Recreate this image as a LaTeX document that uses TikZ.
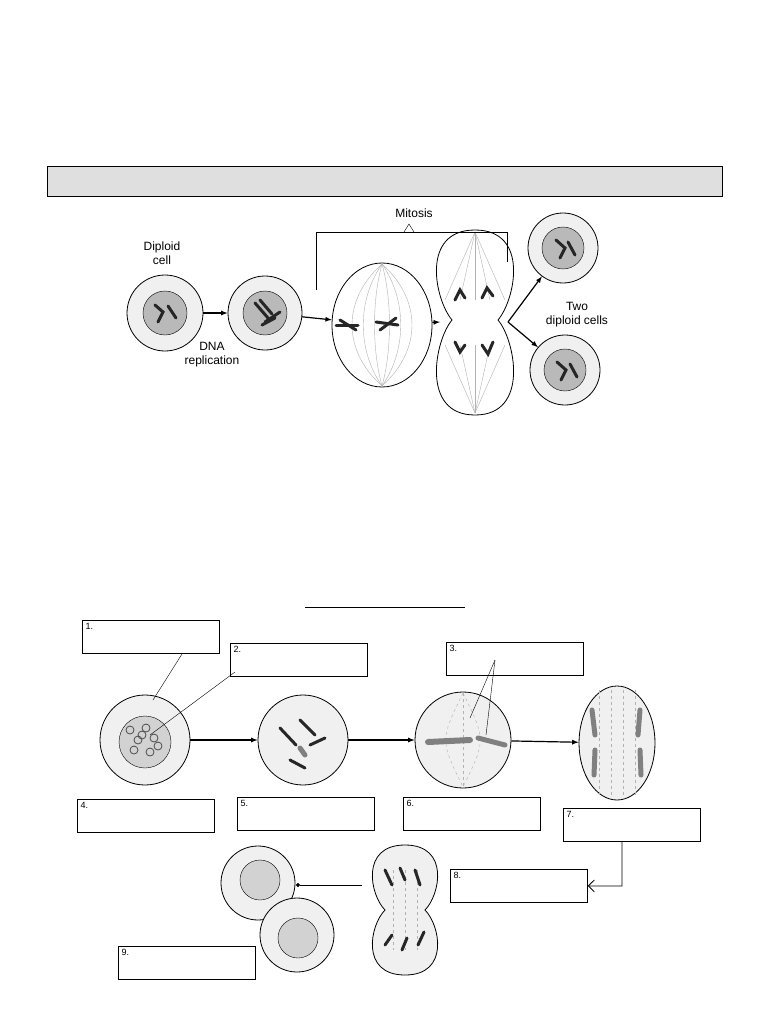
\documentclass[tikz,border=0pt]{standalone}
\usepackage{fontspec}
\setmainfont{Liberation Sans}
\usetikzlibrary{shapes.geometric,arrows.meta}
\begin{document}
\begin{tikzpicture}[x=1pt,y=-1pt,
 lbl/.style={draw,thick,minimum width=137pt,minimum height=33pt,anchor=north west,inner sep=0pt},
 cell/.style={draw,fill=gray!12,line width=0.8pt},
 nuc/.style={draw,fill=gray!55},
 chrom/.style={line width=3pt,line cap=round,black!85},
 arr/.style={-latex,line width=1.2pt},
 fib/.style={gray!60,thin}]
\useasboundingbox (0,0) rectangle (768,1024);
\node[draw,fill=gray!25,minimum width=675pt,minimum height=30pt,anchor=north west,inner sep=0pt] (bar) at (47,166) {};
% top figure
\node[align=center,font=\large] (t1) at (162,253) {Diploid\\cell};
\node[cell,circle,minimum size=76pt] (c1) at (165,313) {};
\node[nuc,circle,minimum size=44pt] (n1) at (165,313) {};
\draw[chrom] (155,305)--(163,312)--(158,322); \draw[chrom] (168,306)--(176,318);
\node[cell,circle,minimum size=74pt] (c2) at (265,313) {};
\node[nuc,circle,minimum size=44pt] (n2) at (265,313) {};
\draw[chrom] (255,303)--(268,318); \draw[chrom] (260,300)--(272,314); \draw[chrom] (262,325)--(275,318); \draw[chrom] (265,322)--(280,312);
\draw[arr] (c1) -- (c2);
\node[align=center,font=\large] (t2) at (212,355) {DNA\\replication};
\node[cell,fill=white,ellipse,minimum width=100pt,minimum height=124pt,draw] (c3) at (382,325) {};
\foreach \a in {-40,-25,-10,10,25,40}{\draw[fib] (382,264) .. controls ({382+\a},300) and ({382+\a},350) .. (382,386);}
\draw[chrom] (336,325)--(358,325); \draw[chrom] (340,320)--(356,330);
\draw[chrom] (376,322)--(398,325); \draw[chrom] (380,330)--(396,318);
\draw[cell,fill=white] (475,230) .. controls (530,230) and (515,300) .. (498,320) .. controls (515,340) and (530,415) .. (475,415) .. controls (420,415) and (435,340) .. (452,320) .. controls (435,300) and (420,230) .. (475,230) -- cycle;
\coordinate (c4w) at (440,322); \coordinate (c4e) at (508,322);
\draw[arr] (c2) -- (c3);
\foreach \a in {-30,-15,0,15,30}{\draw[fib] (475,232) -- ({475+\a},300); \draw[fib] (475,413) -- ({475+\a},345);}
\draw[chrom] (455,300)--(460,290)--(465,298); \draw[chrom] (482,298)--(487,288)--(493,296);
\draw[chrom] (455,342)--(460,352)--(465,345); \draw[chrom] (482,345)--(488,354)--(493,342);
\draw[arr] (c3) -- (c4w);
\draw (316,290) -- (316,232) -- (507,232) -- (507,262);
\draw (404,232) -- (409,224) -- (414,232);
\node[font=\large] (mit) at (414,213) {Mitosis};
\node[cell,circle,minimum size=70pt] (c5) at (563,248) {};
\node[nuc,circle,minimum size=42pt] (n5) at (563,248) {};
\draw[chrom] (556,240)--(565,248)--(560,258); \draw[chrom] (568,242)--(575,255);
\node[cell,circle,minimum size=70pt] (c6) at (565,370) {};
\node[nuc,circle,minimum size=42pt] (n6) at (565,370) {};
\draw[chrom] (557,362)--(566,370)--(561,380); \draw[chrom] (570,364)--(577,377);
\draw[arr] (c4e) -- (c5); \draw[arr] (c4e) -- (c6);
\node[align=center,font=\large] (t3) at (577,315) {Two\\diploid cells};
% bottom
\draw[thick] (305,607) -- (465,607);
\node[cell,circle,minimum size=90pt] (A) at (145,740) {};
\node[nuc,circle,fill=gray!35,minimum size=52pt] (An) at (145,742) {};
\foreach \x/\y in {130/730,138/740,146/728,154/738,134/750,150/752,158/746,142/735}{\draw[thick,black!70] (\x,\y) circle (4pt);}
\node[cell,circle,minimum size=90pt] (B) at (303,740) {};
\draw[chrom] (280,728)--(296,745); \draw[chrom] (300,720)--(315,735); \draw[chrom] (310,745)--(325,738); \draw[chrom] (290,760)--(305,768); \draw[chrom,line width=5pt,gray] (300,748)--(305,755);
\node[cell,circle,minimum size=96pt] (C) at (463,740) {};
\draw[fib,dashed] (463,693)--(463,787); \draw[fib,dashed] (463,693) .. controls (440,740) .. (463,787); \draw[fib,dashed] (463,693) .. controls (486,740) .. (463,787);
\draw[chrom,line width=6pt,gray] (428,742)--(470,740); \draw[chrom,line width=5pt,gray] (478,738)--(505,745);
\node[cell,ellipse,minimum width=76pt,minimum height=114pt] (D) at (617,743) {};
\foreach \a in {-18,-6,6,18}{\draw[fib,dashed] ({617+\a},690)--({617+\a},796);}
\draw[chrom,line width=5pt,gray] (592,710)--(595,735); \draw[chrom,line width=5pt,gray] (640,710)--(638,735);
\draw[chrom,line width=5pt,gray] (595,750)--(594,775); \draw[chrom,line width=5pt,gray] (640,750)--(641,775);
\draw[arr] (A) -- (B); \draw[arr] (B) -- (C); \draw[arr] (C) -- (D);
\draw[cell] (405,845) .. controls (450,845) and (440,895) .. (425,910) .. controls (440,925) and (450,975) .. (405,975) .. controls (360,975) and (370,925) .. (385,910) .. controls (370,895) and (360,845) .. (405,845) -- cycle;
\coordinate (Ew) at (362,885);
\foreach \a in {-12,0,12}{\draw[fib,dashed] ({405+\a},870)--({405+\a},950);}
\draw[chrom] (385,870)--(392,885); \draw[chrom] (400,868)--(405,880); \draw[chrom] (415,870)--(420,885);
\draw[chrom] (385,945)--(392,935); \draw[chrom] (402,950)--(407,938); \draw[chrom] (418,945)--(424,932);
\node[cell,circle,minimum size=74pt] (F) at (258,883) {};
\node[nuc,circle,fill=gray!35,minimum size=40pt] (Fn) at (260,880) {};
\node[cell,circle,minimum size=74pt] (G) at (297,935) {};
\node[nuc,circle,fill=gray!35,minimum size=40pt] (Gn) at (298,938) {};
\coordinate (Fe) at (296,885);
\draw[-{Circle[length=4pt]},line width=0.8pt] (Ew) -- (Fe);
% boxes
\node[lbl] (b1) at (82,620) {}; \node[anchor=north west,font=\small] at (b1.north west) {1.};
\node[lbl] (b2) at (230,643) {}; \node[anchor=north west,font=\small] at (b2.north west) {2.};
\node[lbl] (b3) at (446,642) {}; \node[anchor=north west,font=\small] at (b3.north west) {3.};
\node[lbl] (b4) at (77,799) {}; \node[anchor=north west,font=\small] at (b4.north west) {4.};
\node[lbl] (b5) at (237,797) {}; \node[anchor=north west,font=\small] at (b5.north west) {5.};
\node[lbl] (b6) at (403,797) {}; \node[anchor=north west,font=\small] at (b6.north west) {6.};
\node[lbl] (b7) at (563,808) {}; \node[anchor=north west,font=\small] at (b7.north west) {7.};
\node[lbl] (b8) at (450,869) {}; \node[anchor=north west,font=\small] at (b8.north west) {8.};
\node[lbl] (b9) at (118,946) {}; \node[anchor=north west,font=\small] at (b9.north west) {9.};
\coordinate (p1) at (153,700); \coordinate (p2) at (150,735);
\coordinate (p3a) at (470,718); \coordinate (p3b) at (486,735); \coordinate (b3p) at (495,660);
\coordinate (b1p) at (182,654); \coordinate (b2p) at (235,672); \coordinate (b7p) at (622,842); \coordinate (b7c) at (622,886);
\draw (b1p) -- (p1); \draw (b2p) -- (p2);
\draw (b3p) -- (p3a); \draw (b3p) -- (p3b);
\draw[-{Straight Barb[length=6pt]},thick] (b7p) -- (b7c) -- (b8.east);
\end{tikzpicture}
\end{document}
